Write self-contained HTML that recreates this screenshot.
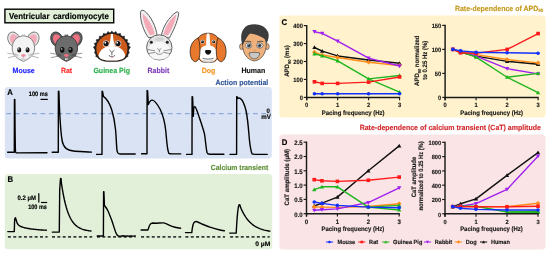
<!DOCTYPE html>
<html><head><meta charset="utf-8"><style>
html,body{margin:0;padding:0;background:#fff;width:550px;height:255px;overflow:hidden;}
svg{display:block;filter:blur(0.3px);}
text{font-family:"Liberation Sans",sans-serif;text-rendering:geometricPrecision;}
</style></head><body>
<svg width="550" height="255" viewBox="0 0 550 255">
<rect x="4.8" y="87" width="267.0" height="71.5" rx="3.5" fill="#dae3f3"/>
<rect x="4.8" y="174" width="267.4" height="75.2" rx="3.5" fill="#e2f0d9"/>
<rect x="279.4" y="15.4" width="266.2" height="102.0" rx="3.5" fill="#fff2cc"/>
<rect x="279.4" y="134.4" width="266.1" height="115.1" rx="3.5" fill="#fbe4e6"/>
<rect x="4.9" y="9.2" width="108.8" height="13.6" rx="0" fill="#e2f0d9" stroke="#000" stroke-width="1.4"/>
<text x="9.1" y="19.2" font-size="8.0" fill="#000" stroke="#000" stroke-width="0.14" font-weight="bold" text-anchor="start" textLength="40.4" lengthAdjust="spacingAndGlyphs" transform="translate(9.1 19.2) scale(1 1.07) translate(-9.1 -19.2)" >Ventricular</text>
<text x="52.9" y="19.2" font-size="8.0" fill="#000" stroke="#000" stroke-width="0.14" font-weight="bold" text-anchor="start" textLength="56.0" lengthAdjust="spacingAndGlyphs" transform="translate(52.9 19.2) scale(1 1.07) translate(-52.9 -19.2)" >cardiomyocyte</text>
<text x="23.65" y="72.6" font-size="7" fill="#1f1fff" stroke="#1f1fff" stroke-width="0.14" font-weight="bold" text-anchor="middle" transform="translate(23.65 72.6) scale(1 1.07) translate(-23.65 -72.6)" >Mouse</text>
<text x="66.55" y="72.6" font-size="7" fill="#ff2a2a" stroke="#ff2a2a" stroke-width="0.14" font-weight="bold" text-anchor="middle" transform="translate(66.55 72.6) scale(1 1.07) translate(-66.55 -72.6)" >Rat</text>
<text x="111.7" y="72.6" font-size="7" fill="#2fb04f" stroke="#2fb04f" stroke-width="0.14" font-weight="bold" text-anchor="middle" transform="translate(111.7 72.6) scale(1 1.07) translate(-111.7 -72.6)" >Guinea Pig</text>
<text x="158.35" y="72.6" font-size="7" fill="#7b3bb8" stroke="#7b3bb8" stroke-width="0.14" font-weight="bold" text-anchor="middle" transform="translate(158.35 72.6) scale(1 1.07) translate(-158.35 -72.6)" >Rabbit</text>
<text x="208.55" y="72.6" font-size="7" fill="#f7931e" stroke="#f7931e" stroke-width="0.14" font-weight="bold" text-anchor="middle" transform="translate(208.55 72.6) scale(1 1.07) translate(-208.55 -72.6)" >Dog</text>
<text x="253.35" y="72.6" font-size="7" fill="#111" stroke="#111" stroke-width="0.14" font-weight="bold" text-anchor="middle" transform="translate(253.35 72.6) scale(1 1.07) translate(-253.35 -72.6)" >Human</text>
<text x="268.3" y="84.9" font-size="7" fill="#2f5597" stroke="#2f5597" stroke-width="0.14" font-weight="bold" text-anchor="end" transform="translate(268.3 84.9) scale(1 1.07) translate(-268.3 -84.9)" >Action potential</text>
<text x="268.3" y="169.8" font-size="7" fill="#5b8e34" stroke="#5b8e34" stroke-width="0.14" font-weight="bold" text-anchor="end" textLength="57.5" lengthAdjust="spacingAndGlyphs" transform="translate(268.3 169.8) scale(1 1.07) translate(-268.3 -169.8)" >Calcium transient</text>
<text x="543.3" y="10.7" font-size="7" fill="#c49a1c" stroke="#c49a1c" stroke-width="0.14" font-weight="bold" text-anchor="end" transform="translate(543.3 10.7) scale(1 1.07) translate(-543.3 -10.7)" >Rate-dependence of APD<tspan font-size="4.5" dy="1.6">90</tspan></text>
<text x="540.9" y="129.7" font-size="7" fill="#d42a2e" stroke="#d42a2e" stroke-width="0.14" font-weight="bold" text-anchor="end" transform="translate(540.9 129.7) scale(1 1.07) translate(-540.9 -129.7)" >Rate-dependence of calcium transient (CaT) amplitude</text>
<text x="7.3" y="95.0" font-size="7.8" fill="#000" stroke="#000" stroke-width="0.14" font-weight="bold" text-anchor="start" transform="translate(7.3 95.0) scale(1 1.07) translate(-7.3 -95.0)" >A</text>
<text x="7.4" y="182.3" font-size="7.8" fill="#000" stroke="#000" stroke-width="0.14" font-weight="bold" text-anchor="start" transform="translate(7.4 182.3) scale(1 1.07) translate(-7.4 -182.3)" >B</text>
<text x="281.6" y="24.9" font-size="7.8" fill="#000" stroke="#000" stroke-width="0.14" font-weight="bold" text-anchor="start" transform="translate(281.6 24.9) scale(1 1.07) translate(-281.6 -24.9)" >C</text>
<text x="281.8" y="144.5" font-size="7.8" fill="#000" stroke="#000" stroke-width="0.14" font-weight="bold" text-anchor="start" transform="translate(281.8 144.5) scale(1 1.07) translate(-281.8 -144.5)" >D</text>
<line x1="6.4" y1="113.7" x2="271" y2="113.7" stroke="#8eaadb" stroke-width="1.25" stroke-dasharray="4.8 3.7"/>
<text x="28.8" y="95.7" font-size="5.9" fill="#000" stroke="#000" stroke-width="0.14" font-weight="bold" text-anchor="start" textLength="19" lengthAdjust="spacingAndGlyphs" transform="translate(28.8 95.7) scale(1 1.07) translate(-28.8 -95.7)" >100 ms</text>
<line x1="40.5" y1="99.4" x2="47.8" y2="99.4" stroke="#000" stroke-width="1.2" />
<text x="269.9" y="112.6" font-size="6.0" fill="#000" stroke="#000" stroke-width="0.14" font-weight="bold" text-anchor="end" transform="translate(269.9 112.6) scale(1 1.07) translate(-269.9 -112.6)" >0</text>
<text x="270.8" y="119.2" font-size="6.2" fill="#000" stroke="#000" stroke-width="0.14" font-weight="bold" text-anchor="end" textLength="9.6" lengthAdjust="spacingAndGlyphs" transform="translate(270.8 119.2) scale(1 1.07) translate(-270.8 -119.2)" >mV</text>
<path d="M7.6 152.3 L14.3 152.3 L14.45 99.4 L14.85 99.6 C15.0 125 15.2 145 15.45 151.3 C15.65 152.6 16 152.9 16.8 152.9 L47 152.8" stroke="#000" stroke-width="1.4" fill="none" stroke-linejoin="round" stroke-linecap="round" />
<path d="M52.2 152.2 L58.3 152.2 L58.4 91.3 L58.9 91.5 C59.6 115 60.5 130 62 140 C63.5 148 67 150.5 75 151.2 C82 151.7 87 152 91.5 152.1" stroke="#000" stroke-width="1.4" fill="none" stroke-linejoin="round" stroke-linecap="round" />
<path d="M96.6 154.4 L102 154.4 L102.1 91.3 L102.6 91.6 L103.4 96.4 C106.5 98.5 109.5 103 111.8 110 C113.5 115.5 114.8 122 115.6 130 C116.2 137 116.4 145 117 150.5 C117.4 153.3 118.2 154 120 154 L135.2 154" stroke="#000" stroke-width="1.4" fill="none" stroke-linejoin="round" stroke-linecap="round" />
<path d="M141.6 153.8 L147 153.8 L147.1 90.5 L147.6 90.8 L148.3 104.6 C149.5 101.5 150.8 100 152.3 100.1 C155 100.3 157.5 104.5 160 109 C163 115 164.8 122 165.8 131 C166.6 140 167.2 150 168.8 153.2 C169.5 153.9 171 153.9 172 153.9 L180.7 153.9" stroke="#000" stroke-width="1.4" fill="none" stroke-linejoin="round" stroke-linecap="round" />
<path d="M186.6 154.4 L192 154.4 L192.1 96.6 L192.6 96.8 L193.3 116.2 C193.6 110 194 106.5 194.6 106.5 C196 106.8 197.5 112 199.5 118 C201.5 124 203.3 129 204.5 134 C205.5 140 206 148 207 152.5 C207.5 154 208.5 154.2 210 154.2 L223.9 154.2" stroke="#000" stroke-width="1.4" fill="none" stroke-linejoin="round" stroke-linecap="round" />
<path d="M230 154.4 L236.6 154.4 L236.7 96.6 L237.2 96.9 L237.8 98.5 C238.5 97.8 239.5 97.8 240.5 98.6 C242.8 100.3 244.6 104.5 246.1 111 C247.3 117 248.2 125 248.9 134 C249.6 143 250.5 150 252 153.8 C252.6 154.4 253.6 154.4 255 154.4 L267.2 154.4" stroke="#000" stroke-width="1.4" fill="none" stroke-linejoin="round" stroke-linecap="round" />
<text x="17.5" y="199.6" font-size="5.9" fill="#000" stroke="#000" stroke-width="0.14" font-weight="bold" text-anchor="start" textLength="18.4" lengthAdjust="spacingAndGlyphs" transform="translate(17.5 199.6) scale(1 1.07) translate(-17.5 -199.6)" >0.2 µM</text>
<line x1="38.8" y1="193.3" x2="38.8" y2="202.6" stroke="#000" stroke-width="1.2" />
<line x1="41" y1="202.5" x2="47.2" y2="202.5" stroke="#000" stroke-width="1.2" />
<text x="28.2" y="208.9" font-size="5.9" fill="#000" stroke="#000" stroke-width="0.14" font-weight="bold" text-anchor="start" textLength="18.7" lengthAdjust="spacingAndGlyphs" transform="translate(28.2 208.9) scale(1 1.07) translate(-28.2 -208.9)" >100 ms</text>
<text x="270.3" y="246.0" font-size="5.9" fill="#000" stroke="#000" stroke-width="0.14" font-weight="bold" text-anchor="end" textLength="15.1" lengthAdjust="spacingAndGlyphs" transform="translate(270.3 246.0) scale(1 1.07) translate(-270.3 -246.0)" >0 µM</text>
<line x1="7.9" y1="236.9" x2="47.6" y2="236.9" stroke="#3a3a3a" stroke-width="1.6" stroke-dasharray="3.0 2.35"/>
<line x1="52.0" y1="236.9" x2="92.2" y2="236.9" stroke="#3a3a3a" stroke-width="1.6" stroke-dasharray="3.0 2.35"/>
<line x1="97.0" y1="236.9" x2="135.5" y2="236.9" stroke="#3a3a3a" stroke-width="1.6" stroke-dasharray="3.0 2.35"/>
<line x1="141.05" y1="236.9" x2="181.2" y2="236.9" stroke="#3a3a3a" stroke-width="1.6" stroke-dasharray="3.0 2.35"/>
<line x1="185.4" y1="236.9" x2="225.0" y2="236.9" stroke="#3a3a3a" stroke-width="1.6" stroke-dasharray="3.0 2.35"/>
<line x1="230.1" y1="236.9" x2="269.7" y2="236.9" stroke="#3a3a3a" stroke-width="1.6" stroke-dasharray="3.0 2.35"/>
<path d="M7.8 231.6 L14.3 231.6 L14.6 220.5 C14.8 218.6 15.1 217.8 15.5 217.8 L15.90 219.33 L17.17 223.20 L18.44 224.97 L19.71 225.92 L20.98 226.53 L22.25 227.00 L23.52 227.38 L24.80 227.72 L26.07 228.02 L27.34 228.29 L28.61 228.53 L29.88 228.75 L31.15 228.94 L32.42 229.12 L33.69 229.28 L34.96 229.42 L36.23 229.55 L37.50 229.67 L38.77 229.78 L40.05 229.87 L41.32 229.96 L42.59 230.04 L43.86 230.11 L45.13 230.17 L46.40 230.23" stroke="#000" stroke-width="1.4" fill="none" stroke-linejoin="round" stroke-linecap="round" />
<path d="M52.3 232.1 L59.3 232.1 L59.7 190 L60.5 178.6 C60.7 178.3 60.9 178.3 61.1 178.8 L61.30 182.28 L62.29 188.75 L63.28 194.37 L64.27 199.25 L65.26 203.50 L66.25 207.19 L67.24 210.40 L68.23 213.18 L69.22 215.61 L70.21 217.71 L71.20 219.54 L72.19 221.13 L73.18 222.52 L74.17 223.72 L75.16 224.76 L76.15 225.67 L77.14 226.46 L78.13 227.14 L79.12 227.74 L80.11 228.26 L81.10 228.71 L82.09 229.10 L83.08 229.44 L84.07 229.74 L85.06 229.99 L86.05 230.22 L87.04 230.41 L88.03 230.58 L89.02 230.73 L90.01 230.85 L91.00 230.96" stroke="#000" stroke-width="1.4" fill="none" stroke-linejoin="round" stroke-linecap="round" />
<path d="M97.2 236.0 L103.4 236.0 L103.6 191.7 L103.9 191.7 L104.4 205.1 C105.3 206.8 106.5 208 107.5 210 C109 213 110.5 217 112 221 C113.5 225.5 114.8 230 116 233 C116.8 235 117.5 235.8 118.5 236 L121 236.1 L123 235.8 L125 236.2 L127 235.9 L129 236.2 L131 235.9 L133 236.1 L135.3 236.0" stroke="#000" stroke-width="1.4" fill="none" stroke-linejoin="round" stroke-linecap="round" />
<path d="M141.1 230 L147.8 230 C148.5 229 149 226.5 149.5 225.5 C150.3 223.8 151 223 152.5 223 L156.8 223.2 C159 223.1 161.5 222.8 163.7 222.9 C165 223.1 166 223.6 167.5 224.3 C170 225.6 172.5 226.6 175 227.2 C177 227.7 179 228 180.6 228.2" stroke="#000" stroke-width="1.4" fill="none" stroke-linejoin="round" stroke-linecap="round" />
<path d="M185.5 232.6 L191.8 232.6 L192.2 229 C192.5 226.5 193 224 193.8 222.8 C194.5 221.7 195.4 221.4 196.2 221.5 C198.5 222 200 223 202 224 C205 225.4 207.5 226.2 210 227.2 C213.5 228.5 217 229.4 220 230 C222 230.4 223.5 230.6 224.4 230.7" stroke="#000" stroke-width="1.4" fill="none" stroke-linejoin="round" stroke-linecap="round" />
<path d="M229.7 233.1 L236.2 233.1 L236.6 226 C237.2 216 238 207.5 238.9 205.1 C239.2 204.5 239.6 204.5 240 205.2 L240.30 206.63 L241.35 209.11 L242.41 211.35 L243.46 213.38 L244.51 215.21 L245.57 216.88 L246.62 218.38 L247.68 219.75 L248.73 220.98 L249.78 222.10 L250.84 223.11 L251.89 224.03 L252.94 224.86 L254.00 225.61 L255.05 226.28 L256.10 226.90 L257.16 227.46 L258.21 227.96 L259.26 228.42 L260.32 228.83 L261.37 229.20 L262.43 229.54 L263.48 229.85 L264.53 230.13 L265.59 230.38 L266.64 230.61 L267.69 230.81 L268.75 231.00 L269.80 231.17" stroke="#000" stroke-width="1.4" fill="none" stroke-linejoin="round" stroke-linecap="round" />
<polyline points="314.44,47.50 322.18,51.09 337.65,55.94 368.60,60.06 399.55,63.30" fill="none" stroke="#111111" stroke-width="1.4" stroke-linejoin="round"/>
<path d="M314.44 45.34 L316.60 49.12 L312.28 49.12 Z" fill="#111111"/>
<path d="M322.18 48.93 L324.34 52.71 L320.01 52.71 Z" fill="#111111"/>
<path d="M337.65 53.78 L339.81 57.56 L335.49 57.56 Z" fill="#111111"/>
<path d="M368.60 57.90 L370.76 61.68 L366.44 61.68 Z" fill="#111111"/>
<path d="M399.55 61.14 L401.71 64.92 L397.39 64.92 Z" fill="#111111"/>
<polyline points="314.44,52.17 322.18,55.04 337.65,57.55 368.60,62.22 399.55,65.45" fill="none" stroke="#ff8c1a" stroke-width="1.4" stroke-linejoin="round"/>
<path d="M314.44 49.83 L316.78 52.17 L314.44 54.51 L312.10 52.17 Z" fill="#ff8c1a"/>
<path d="M322.18 52.70 L324.51 55.04 L322.18 57.38 L319.84 55.04 Z" fill="#ff8c1a"/>
<path d="M337.65 55.21 L339.99 57.55 L337.65 59.89 L335.31 57.55 Z" fill="#ff8c1a"/>
<path d="M368.60 59.88 L370.94 62.22 L368.60 64.56 L366.26 62.22 Z" fill="#ff8c1a"/>
<path d="M399.55 63.11 L401.89 65.45 L399.55 67.79 L397.21 65.45 Z" fill="#ff8c1a"/>
<polyline points="314.44,31.70 322.18,33.32 337.65,41.04 368.60,58.09 399.55,65.99" fill="none" stroke="#a020f0" stroke-width="1.4" stroke-linejoin="round"/>
<path d="M314.44 33.86 L316.60 30.08 L312.28 30.08 Z" fill="#a020f0"/>
<path d="M322.18 35.48 L324.34 31.70 L320.01 31.70 Z" fill="#a020f0"/>
<path d="M337.65 43.20 L339.81 39.42 L335.49 39.42 Z" fill="#a020f0"/>
<path d="M368.60 60.25 L370.76 56.47 L366.44 56.47 Z" fill="#a020f0"/>
<path d="M399.55 68.15 L401.71 64.37 L397.39 64.37 Z" fill="#a020f0"/>
<polyline points="314.44,53.78 322.18,55.94 337.65,60.78 368.60,78.91 399.55,92.19" fill="none" stroke="#1fb51f" stroke-width="1.4" stroke-linejoin="round"/>
<line x1="368.60" y1="78.91" x2="399.55" y2="75.50" stroke="#1fb51f" stroke-width="1.4" />
<path d="M314.44 51.62 L316.60 55.40 L312.28 55.40 Z" fill="#1fb51f"/>
<path d="M322.18 53.78 L324.34 57.56 L320.01 57.56 Z" fill="#1fb51f"/>
<path d="M337.65 58.62 L339.81 62.40 L335.49 62.40 Z" fill="#1fb51f"/>
<path d="M368.60 76.75 L370.76 80.53 L366.44 80.53 Z" fill="#1fb51f"/>
<path d="M399.55 90.03 L401.71 93.81 L397.39 93.81 Z" fill="#1fb51f"/>
<path d="M399.55 73.34 L401.71 77.12 L397.39 77.12 Z" fill="#1fb51f"/>
<polyline points="314.44,81.78 322.18,83.40 337.65,83.40 368.60,82.14 399.55,76.94" fill="none" stroke="#ff1a1a" stroke-width="1.4" stroke-linejoin="round"/>
<rect x="312.64" y="79.98" width="3.60" height="3.60" fill="#ff1a1a"/>
<rect x="320.38" y="81.60" width="3.60" height="3.60" fill="#ff1a1a"/>
<rect x="335.85" y="81.60" width="3.60" height="3.60" fill="#ff1a1a"/>
<rect x="366.80" y="80.34" width="3.60" height="3.60" fill="#ff1a1a"/>
<rect x="397.75" y="75.14" width="3.60" height="3.60" fill="#ff1a1a"/>
<polyline points="314.44,93.81 322.18,93.81 337.65,93.81 368.60,93.81 399.55,93.81" fill="none" stroke="#1030ff" stroke-width="1.4" stroke-linejoin="round"/>
<circle cx="314.44" cy="93.81" r="1.8" fill="#1030ff"/>
<circle cx="322.18" cy="93.81" r="1.8" fill="#1030ff"/>
<circle cx="337.65" cy="93.81" r="1.8" fill="#1030ff"/>
<circle cx="368.60" cy="93.81" r="1.8" fill="#1030ff"/>
<circle cx="399.55" cy="93.81" r="1.8" fill="#1030ff"/>
<line x1="306.70" y1="25.00" x2="306.70" y2="100.30" stroke="#1a1a1a" stroke-width="1.45" />
<line x1="306.10" y1="97.40" x2="400.15" y2="97.40" stroke="#1a1a1a" stroke-width="1.45" />
<line x1="303.80" y1="97.40" x2="306.70" y2="97.40" stroke="#1a1a1a" stroke-width="1.15" />
<text x="302.90" y="99.65" font-size="5.8" fill="#1a1a1a" stroke="#1a1a1a" stroke-width="0.14" font-weight="bold" text-anchor="end" transform="translate(302.90 99.65) scale(1 1.07) translate(-302.9 -99.65)" >0</text>
<line x1="303.80" y1="79.45" x2="306.70" y2="79.45" stroke="#1a1a1a" stroke-width="1.15" />
<text x="302.90" y="81.70" font-size="5.8" fill="#1a1a1a" stroke="#1a1a1a" stroke-width="0.14" font-weight="bold" text-anchor="end" transform="translate(302.90 81.70) scale(1 1.07) translate(-302.9 -81.7)" >100</text>
<line x1="303.80" y1="61.50" x2="306.70" y2="61.50" stroke="#1a1a1a" stroke-width="1.15" />
<text x="302.90" y="63.75" font-size="5.8" fill="#1a1a1a" stroke="#1a1a1a" stroke-width="0.14" font-weight="bold" text-anchor="end" transform="translate(302.90 63.75) scale(1 1.07) translate(-302.9 -63.75)" >200</text>
<line x1="303.80" y1="43.55" x2="306.70" y2="43.55" stroke="#1a1a1a" stroke-width="1.15" />
<text x="302.90" y="45.80" font-size="5.8" fill="#1a1a1a" stroke="#1a1a1a" stroke-width="0.14" font-weight="bold" text-anchor="end" transform="translate(302.90 45.80) scale(1 1.07) translate(-302.9 -45.8)" >300</text>
<line x1="303.80" y1="25.60" x2="306.70" y2="25.60" stroke="#1a1a1a" stroke-width="1.15" />
<text x="302.90" y="27.85" font-size="5.8" fill="#1a1a1a" stroke="#1a1a1a" stroke-width="0.14" font-weight="bold" text-anchor="end" transform="translate(302.90 27.85) scale(1 1.07) translate(-302.9 -27.85)" >400</text>
<line x1="306.70" y1="97.40" x2="306.70" y2="100.30" stroke="#1a1a1a" stroke-width="1.15" />
<text x="306.70" y="106.60" font-size="5.8" fill="#1a1a1a" stroke="#1a1a1a" stroke-width="0.14" font-weight="bold" text-anchor="middle" transform="translate(306.70 106.60) scale(1 1.07) translate(-306.7 -106.6)" >0</text>
<line x1="337.65" y1="97.40" x2="337.65" y2="100.30" stroke="#1a1a1a" stroke-width="1.15" />
<text x="337.65" y="106.60" font-size="5.8" fill="#1a1a1a" stroke="#1a1a1a" stroke-width="0.14" font-weight="bold" text-anchor="middle" transform="translate(337.65 106.60) scale(1 1.07) translate(-337.65 -106.6)" >1</text>
<line x1="368.60" y1="97.40" x2="368.60" y2="100.30" stroke="#1a1a1a" stroke-width="1.15" />
<text x="368.60" y="106.60" font-size="5.8" fill="#1a1a1a" stroke="#1a1a1a" stroke-width="0.14" font-weight="bold" text-anchor="middle" transform="translate(368.60 106.60) scale(1 1.07) translate(-368.6 -106.6)" >2</text>
<line x1="399.55" y1="97.40" x2="399.55" y2="100.30" stroke="#1a1a1a" stroke-width="1.15" />
<text x="399.55" y="106.60" font-size="5.8" fill="#1a1a1a" stroke="#1a1a1a" stroke-width="0.14" font-weight="bold" text-anchor="middle" transform="translate(399.55 106.60) scale(1 1.07) translate(-399.55 -106.6)" >3</text>
<text x="353.12" y="114.60" font-size="6" fill="#1a1a1a" stroke="#1a1a1a" stroke-width="0.14" font-weight="bold" text-anchor="middle" textLength="62.7" lengthAdjust="spacingAndGlyphs" transform="translate(353.12 114.60) scale(1 1.07) translate(-353.12 -114.6)" >Pacing frequency (Hz)</text>
<polyline points="452.85,49.40 460.60,52.28 476.10,56.12 507.10,61.40 538.10,64.28" fill="none" stroke="#111111" stroke-width="1.4" stroke-linejoin="round"/>
<path d="M452.85 47.24 L455.01 51.02 L450.69 51.02 Z" fill="#111111"/>
<path d="M460.60 50.12 L462.76 53.90 L458.44 53.90 Z" fill="#111111"/>
<path d="M476.10 53.96 L478.26 57.74 L473.94 57.74 Z" fill="#111111"/>
<path d="M507.10 59.24 L509.26 63.02 L504.94 63.02 Z" fill="#111111"/>
<path d="M538.10 62.12 L540.26 65.90 L535.94 65.90 Z" fill="#111111"/>
<polyline points="452.85,49.40 460.60,51.80 476.10,54.68 507.10,59.48 538.10,62.84" fill="none" stroke="#ff8c1a" stroke-width="1.4" stroke-linejoin="round"/>
<path d="M452.85 47.06 L455.19 49.40 L452.85 51.74 L450.51 49.40 Z" fill="#ff8c1a"/>
<path d="M460.60 49.46 L462.94 51.80 L460.60 54.14 L458.26 51.80 Z" fill="#ff8c1a"/>
<path d="M476.10 52.34 L478.44 54.68 L476.10 57.02 L473.76 54.68 Z" fill="#ff8c1a"/>
<path d="M507.10 57.14 L509.44 59.48 L507.10 61.82 L504.76 59.48 Z" fill="#ff8c1a"/>
<path d="M538.10 60.50 L540.44 62.84 L538.10 65.18 L535.76 62.84 Z" fill="#ff8c1a"/>
<polyline points="452.85,49.40 460.60,51.32 476.10,56.12 507.10,68.60 538.10,73.88" fill="none" stroke="#a020f0" stroke-width="1.4" stroke-linejoin="round"/>
<path d="M452.85 51.56 L455.01 47.78 L450.69 47.78 Z" fill="#a020f0"/>
<path d="M460.60 53.48 L462.76 49.70 L458.44 49.70 Z" fill="#a020f0"/>
<path d="M476.10 58.28 L478.26 54.50 L473.94 54.50 Z" fill="#a020f0"/>
<path d="M507.10 70.76 L509.26 66.98 L504.94 66.98 Z" fill="#a020f0"/>
<path d="M538.10 76.04 L540.26 72.26 L535.94 72.26 Z" fill="#a020f0"/>
<polyline points="452.85,49.40 460.60,51.80 476.10,57.08 507.10,77.24 538.10,92.60" fill="none" stroke="#1fb51f" stroke-width="1.4" stroke-linejoin="round"/>
<line x1="507.10" y1="77.24" x2="538.10" y2="73.40" stroke="#1fb51f" stroke-width="1.4" />
<path d="M452.85 47.24 L455.01 51.02 L450.69 51.02 Z" fill="#1fb51f"/>
<path d="M460.60 49.64 L462.76 53.42 L458.44 53.42 Z" fill="#1fb51f"/>
<path d="M476.10 54.92 L478.26 58.70 L473.94 58.70 Z" fill="#1fb51f"/>
<path d="M507.10 75.08 L509.26 78.86 L504.94 78.86 Z" fill="#1fb51f"/>
<path d="M538.10 90.44 L540.26 94.22 L535.94 94.22 Z" fill="#1fb51f"/>
<path d="M538.10 71.24 L540.26 75.02 L535.94 75.02 Z" fill="#1fb51f"/>
<polyline points="452.85,49.40 460.60,52.76 476.10,53.24 507.10,49.40 538.10,33.56" fill="none" stroke="#ff1a1a" stroke-width="1.4" stroke-linejoin="round"/>
<rect x="451.05" y="47.60" width="3.60" height="3.60" fill="#ff1a1a"/>
<rect x="458.80" y="50.96" width="3.60" height="3.60" fill="#ff1a1a"/>
<rect x="474.30" y="51.44" width="3.60" height="3.60" fill="#ff1a1a"/>
<rect x="505.30" y="47.60" width="3.60" height="3.60" fill="#ff1a1a"/>
<rect x="536.30" y="31.76" width="3.60" height="3.60" fill="#ff1a1a"/>
<polyline points="452.85,49.40 460.60,50.84 476.10,52.28 507.10,52.76 538.10,53.24" fill="none" stroke="#1030ff" stroke-width="1.4" stroke-linejoin="round"/>
<circle cx="452.85" cy="49.40" r="1.8" fill="#1030ff"/>
<circle cx="460.60" cy="50.84" r="1.8" fill="#1030ff"/>
<circle cx="476.10" cy="52.28" r="1.8" fill="#1030ff"/>
<circle cx="507.10" cy="52.76" r="1.8" fill="#1030ff"/>
<circle cx="538.10" cy="53.24" r="1.8" fill="#1030ff"/>
<line x1="445.10" y1="24.80" x2="445.10" y2="100.30" stroke="#1a1a1a" stroke-width="1.45" />
<line x1="444.50" y1="97.40" x2="538.70" y2="97.40" stroke="#1a1a1a" stroke-width="1.45" />
<line x1="442.20" y1="97.40" x2="445.10" y2="97.40" stroke="#1a1a1a" stroke-width="1.15" />
<text x="441.30" y="99.65" font-size="5.8" fill="#1a1a1a" stroke="#1a1a1a" stroke-width="0.14" font-weight="bold" text-anchor="end" transform="translate(441.30 99.65) scale(1 1.07) translate(-441.3 -99.65)" >0</text>
<line x1="442.20" y1="73.40" x2="445.10" y2="73.40" stroke="#1a1a1a" stroke-width="1.15" />
<text x="441.30" y="75.65" font-size="5.8" fill="#1a1a1a" stroke="#1a1a1a" stroke-width="0.14" font-weight="bold" text-anchor="end" transform="translate(441.30 75.65) scale(1 1.07) translate(-441.3 -75.65)" >50</text>
<line x1="442.20" y1="49.40" x2="445.10" y2="49.40" stroke="#1a1a1a" stroke-width="1.15" />
<text x="441.30" y="51.65" font-size="5.8" fill="#1a1a1a" stroke="#1a1a1a" stroke-width="0.14" font-weight="bold" text-anchor="end" transform="translate(441.30 51.65) scale(1 1.07) translate(-441.3 -51.65)" >100</text>
<line x1="442.20" y1="25.40" x2="445.10" y2="25.40" stroke="#1a1a1a" stroke-width="1.15" />
<text x="441.30" y="27.65" font-size="5.8" fill="#1a1a1a" stroke="#1a1a1a" stroke-width="0.14" font-weight="bold" text-anchor="end" transform="translate(441.30 27.65) scale(1 1.07) translate(-441.3 -27.65)" >150</text>
<line x1="445.10" y1="97.40" x2="445.10" y2="100.30" stroke="#1a1a1a" stroke-width="1.15" />
<text x="445.10" y="106.60" font-size="5.8" fill="#1a1a1a" stroke="#1a1a1a" stroke-width="0.14" font-weight="bold" text-anchor="middle" transform="translate(445.10 106.60) scale(1 1.07) translate(-445.1 -106.6)" >0</text>
<line x1="476.10" y1="97.40" x2="476.10" y2="100.30" stroke="#1a1a1a" stroke-width="1.15" />
<text x="476.10" y="106.60" font-size="5.8" fill="#1a1a1a" stroke="#1a1a1a" stroke-width="0.14" font-weight="bold" text-anchor="middle" transform="translate(476.10 106.60) scale(1 1.07) translate(-476.1 -106.6)" >1</text>
<line x1="507.10" y1="97.40" x2="507.10" y2="100.30" stroke="#1a1a1a" stroke-width="1.15" />
<text x="507.10" y="106.60" font-size="5.8" fill="#1a1a1a" stroke="#1a1a1a" stroke-width="0.14" font-weight="bold" text-anchor="middle" transform="translate(507.10 106.60) scale(1 1.07) translate(-507.1 -106.6)" >2</text>
<line x1="538.10" y1="97.40" x2="538.10" y2="100.30" stroke="#1a1a1a" stroke-width="1.15" />
<text x="538.10" y="106.60" font-size="5.8" fill="#1a1a1a" stroke="#1a1a1a" stroke-width="0.14" font-weight="bold" text-anchor="middle" transform="translate(538.10 106.60) scale(1 1.07) translate(-538.1 -106.6)" >3</text>
<text x="491.60" y="114.60" font-size="6" fill="#1a1a1a" stroke="#1a1a1a" stroke-width="0.14" font-weight="bold" text-anchor="middle" textLength="62.7" lengthAdjust="spacingAndGlyphs" transform="translate(491.60 114.60) scale(1 1.07) translate(-491.6 -114.6)" >Pacing frequency (Hz)</text>
<polyline points="314.23,205.98 321.95,203.12 337.40,197.11 368.30,170.80 399.20,145.92" fill="none" stroke="#111111" stroke-width="1.4" stroke-linejoin="round"/>
<path d="M314.23 203.82 L316.39 207.60 L312.06 207.60 Z" fill="#111111"/>
<path d="M321.95 200.96 L324.11 204.74 L319.79 204.74 Z" fill="#111111"/>
<path d="M337.40 194.95 L339.56 198.73 L335.24 198.73 Z" fill="#111111"/>
<path d="M368.30 168.64 L370.46 172.42 L366.14 172.42 Z" fill="#111111"/>
<path d="M399.20 143.76 L401.36 147.54 L397.04 147.54 Z" fill="#111111"/>
<polyline points="314.23,206.84 321.95,207.12 337.40,207.41 368.30,206.55 399.20,203.69" fill="none" stroke="#ff8c1a" stroke-width="1.4" stroke-linejoin="round"/>
<path d="M314.23 204.50 L316.56 206.84 L314.23 209.18 L311.89 206.84 Z" fill="#ff8c1a"/>
<path d="M321.95 204.78 L324.29 207.12 L321.95 209.46 L319.61 207.12 Z" fill="#ff8c1a"/>
<path d="M337.40 205.07 L339.74 207.41 L337.40 209.75 L335.06 207.41 Z" fill="#ff8c1a"/>
<path d="M368.30 204.21 L370.64 206.55 L368.30 208.89 L365.96 206.55 Z" fill="#ff8c1a"/>
<path d="M399.20 201.35 L401.54 203.69 L399.20 206.03 L396.86 203.69 Z" fill="#ff8c1a"/>
<polyline points="314.23,210.27 321.95,209.70 337.40,208.84 368.30,202.55 399.20,187.96" fill="none" stroke="#a020f0" stroke-width="1.4" stroke-linejoin="round"/>
<path d="M314.23 212.43 L316.39 208.65 L312.06 208.65 Z" fill="#a020f0"/>
<path d="M321.95 211.86 L324.11 208.08 L319.79 208.08 Z" fill="#a020f0"/>
<path d="M337.40 211.00 L339.56 207.22 L335.24 207.22 Z" fill="#a020f0"/>
<path d="M368.30 204.71 L370.46 200.93 L366.14 200.93 Z" fill="#a020f0"/>
<path d="M399.20 190.12 L401.36 186.34 L397.04 186.34 Z" fill="#a020f0"/>
<polyline points="314.23,189.68 321.95,186.82 337.40,186.82 368.30,207.12 399.20,209.98" fill="none" stroke="#1fb51f" stroke-width="1.4" stroke-linejoin="round"/>
<line x1="368.30" y1="207.12" x2="399.20" y2="205.41" stroke="#1fb51f" stroke-width="1.4" />
<path d="M314.23 187.52 L316.39 191.30 L312.06 191.30 Z" fill="#1fb51f"/>
<path d="M321.95 184.66 L324.11 188.44 L319.79 188.44 Z" fill="#1fb51f"/>
<path d="M337.40 184.66 L339.56 188.44 L335.24 188.44 Z" fill="#1fb51f"/>
<path d="M368.30 204.96 L370.46 208.74 L366.14 208.74 Z" fill="#1fb51f"/>
<path d="M399.20 207.82 L401.36 211.60 L397.04 211.60 Z" fill="#1fb51f"/>
<path d="M399.20 203.25 L401.36 207.03 L397.04 207.03 Z" fill="#1fb51f"/>
<polyline points="314.23,179.67 321.95,180.81 337.40,181.38 368.30,180.24 399.20,177.09" fill="none" stroke="#ff1a1a" stroke-width="1.4" stroke-linejoin="round"/>
<rect x="312.43" y="177.87" width="3.60" height="3.60" fill="#ff1a1a"/>
<rect x="320.15" y="179.01" width="3.60" height="3.60" fill="#ff1a1a"/>
<rect x="335.60" y="179.58" width="3.60" height="3.60" fill="#ff1a1a"/>
<rect x="366.50" y="178.44" width="3.60" height="3.60" fill="#ff1a1a"/>
<rect x="397.40" y="175.29" width="3.60" height="3.60" fill="#ff1a1a"/>
<polyline points="314.23,201.97 321.95,203.40 337.40,205.41 368.30,207.12 399.20,207.69" fill="none" stroke="#1030ff" stroke-width="1.4" stroke-linejoin="round"/>
<circle cx="314.23" cy="201.97" r="1.8" fill="#1030ff"/>
<circle cx="321.95" cy="203.40" r="1.8" fill="#1030ff"/>
<circle cx="337.40" cy="205.41" r="1.8" fill="#1030ff"/>
<circle cx="368.30" cy="207.12" r="1.8" fill="#1030ff"/>
<circle cx="399.20" cy="207.69" r="1.8" fill="#1030ff"/>
<line x1="306.50" y1="141.60" x2="306.50" y2="216.60" stroke="#1a1a1a" stroke-width="1.45" />
<line x1="305.90" y1="213.70" x2="399.80" y2="213.70" stroke="#1a1a1a" stroke-width="1.45" />
<line x1="303.60" y1="213.70" x2="306.50" y2="213.70" stroke="#1a1a1a" stroke-width="1.15" />
<text x="302.70" y="216.65" font-size="6" fill="#1a1a1a" stroke="#1a1a1a" stroke-width="0.14" font-weight="bold" text-anchor="end" transform="translate(302.70 216.65) scale(1 1.07) translate(-302.7 -216.65)" >0.0</text>
<line x1="303.60" y1="199.40" x2="306.50" y2="199.40" stroke="#1a1a1a" stroke-width="1.15" />
<text x="302.70" y="202.35" font-size="6" fill="#1a1a1a" stroke="#1a1a1a" stroke-width="0.14" font-weight="bold" text-anchor="end" transform="translate(302.70 202.35) scale(1 1.07) translate(-302.7 -202.35)" >0.5</text>
<line x1="303.60" y1="185.10" x2="306.50" y2="185.10" stroke="#1a1a1a" stroke-width="1.15" />
<text x="302.70" y="188.05" font-size="6" fill="#1a1a1a" stroke="#1a1a1a" stroke-width="0.14" font-weight="bold" text-anchor="end" transform="translate(302.70 188.05) scale(1 1.07) translate(-302.7 -188.05)" >1.0</text>
<line x1="303.60" y1="170.80" x2="306.50" y2="170.80" stroke="#1a1a1a" stroke-width="1.15" />
<text x="302.70" y="173.75" font-size="6" fill="#1a1a1a" stroke="#1a1a1a" stroke-width="0.14" font-weight="bold" text-anchor="end" transform="translate(302.70 173.75) scale(1 1.07) translate(-302.7 -173.75)" >1.5</text>
<line x1="303.60" y1="156.50" x2="306.50" y2="156.50" stroke="#1a1a1a" stroke-width="1.15" />
<text x="302.70" y="159.45" font-size="6" fill="#1a1a1a" stroke="#1a1a1a" stroke-width="0.14" font-weight="bold" text-anchor="end" transform="translate(302.70 159.45) scale(1 1.07) translate(-302.7 -159.45)" >2.0</text>
<line x1="303.60" y1="142.20" x2="306.50" y2="142.20" stroke="#1a1a1a" stroke-width="1.15" />
<text x="302.70" y="145.15" font-size="6" fill="#1a1a1a" stroke="#1a1a1a" stroke-width="0.14" font-weight="bold" text-anchor="end" transform="translate(302.70 145.15) scale(1 1.07) translate(-302.7 -145.15)" >2.5</text>
<line x1="306.50" y1="213.70" x2="306.50" y2="216.60" stroke="#1a1a1a" stroke-width="1.15" />
<text x="306.50" y="223.80" font-size="6" fill="#1a1a1a" stroke="#1a1a1a" stroke-width="0.14" font-weight="bold" text-anchor="middle" transform="translate(306.50 223.80) scale(1 1.07) translate(-306.5 -223.8)" >0</text>
<line x1="337.40" y1="213.70" x2="337.40" y2="216.60" stroke="#1a1a1a" stroke-width="1.15" />
<text x="337.40" y="223.80" font-size="6" fill="#1a1a1a" stroke="#1a1a1a" stroke-width="0.14" font-weight="bold" text-anchor="middle" transform="translate(337.40 223.80) scale(1 1.07) translate(-337.4 -223.8)" >1</text>
<line x1="368.30" y1="213.70" x2="368.30" y2="216.60" stroke="#1a1a1a" stroke-width="1.15" />
<text x="368.30" y="223.80" font-size="6" fill="#1a1a1a" stroke="#1a1a1a" stroke-width="0.14" font-weight="bold" text-anchor="middle" transform="translate(368.30 223.80) scale(1 1.07) translate(-368.3 -223.8)" >2</text>
<line x1="399.20" y1="213.70" x2="399.20" y2="216.60" stroke="#1a1a1a" stroke-width="1.15" />
<text x="399.20" y="223.80" font-size="6" fill="#1a1a1a" stroke="#1a1a1a" stroke-width="0.14" font-weight="bold" text-anchor="middle" transform="translate(399.20 223.80) scale(1 1.07) translate(-399.2 -223.8)" >3</text>
<text x="352.85" y="231.00" font-size="6" fill="#1a1a1a" stroke="#1a1a1a" stroke-width="0.14" font-weight="bold" text-anchor="middle" textLength="62.7" lengthAdjust="spacingAndGlyphs" transform="translate(352.85 231.00) scale(1 1.07) translate(-352.85 -231.0)" >Pacing frequency (Hz)</text>
<polyline points="452.75,206.65 460.50,203.79 476.00,198.93 507.00,175.33 538.00,152.60" fill="none" stroke="#111111" stroke-width="1.4" stroke-linejoin="round"/>
<path d="M452.75 204.49 L454.91 208.27 L450.59 208.27 Z" fill="#111111"/>
<path d="M460.50 201.63 L462.66 205.41 L458.34 205.41 Z" fill="#111111"/>
<path d="M476.00 196.77 L478.16 200.55 L473.84 200.55 Z" fill="#111111"/>
<path d="M507.00 173.17 L509.16 176.95 L504.84 176.95 Z" fill="#111111"/>
<path d="M538.00 150.44 L540.16 154.22 L535.84 154.22 Z" fill="#111111"/>
<polyline points="452.75,206.65 460.50,206.65 476.00,206.65 507.00,206.65 538.00,203.22" fill="none" stroke="#ff8c1a" stroke-width="1.4" stroke-linejoin="round"/>
<path d="M452.75 204.31 L455.09 206.65 L452.75 208.99 L450.41 206.65 Z" fill="#ff8c1a"/>
<path d="M460.50 204.31 L462.84 206.65 L460.50 208.99 L458.16 206.65 Z" fill="#ff8c1a"/>
<path d="M476.00 204.31 L478.34 206.65 L476.00 208.99 L473.66 206.65 Z" fill="#ff8c1a"/>
<path d="M507.00 204.31 L509.34 206.65 L507.00 208.99 L504.66 206.65 Z" fill="#ff8c1a"/>
<path d="M538.00 200.88 L540.34 203.22 L538.00 205.56 L535.66 203.22 Z" fill="#ff8c1a"/>
<polyline points="452.75,206.65 460.50,206.22 476.00,203.58 507.00,189.42 538.00,156.17" fill="none" stroke="#a020f0" stroke-width="1.4" stroke-linejoin="round"/>
<path d="M452.75 208.81 L454.91 205.03 L450.59 205.03 Z" fill="#a020f0"/>
<path d="M460.50 208.38 L462.66 204.60 L458.34 204.60 Z" fill="#a020f0"/>
<path d="M476.00 205.74 L478.16 201.96 L473.84 201.96 Z" fill="#a020f0"/>
<path d="M507.00 191.58 L509.16 187.80 L504.84 187.80 Z" fill="#a020f0"/>
<path d="M538.00 158.33 L540.16 154.55 L535.84 154.55 Z" fill="#a020f0"/>
<polyline points="452.75,206.65 460.50,206.22 476.00,206.22 507.00,212.01 538.00,212.37" fill="none" stroke="#1fb51f" stroke-width="1.4" stroke-linejoin="round"/>
<line x1="507.00" y1="212.01" x2="538.00" y2="211.30" stroke="#1fb51f" stroke-width="1.4" />
<path d="M452.75 204.49 L454.91 208.27 L450.59 208.27 Z" fill="#1fb51f"/>
<path d="M460.50 204.06 L462.66 207.84 L458.34 207.84 Z" fill="#1fb51f"/>
<path d="M476.00 204.06 L478.16 207.84 L473.84 207.84 Z" fill="#1fb51f"/>
<path d="M507.00 209.85 L509.16 213.63 L504.84 213.63 Z" fill="#1fb51f"/>
<path d="M538.00 210.21 L540.16 213.99 L535.84 213.99 Z" fill="#1fb51f"/>
<path d="M538.00 209.14 L540.16 212.92 L535.84 212.92 Z" fill="#1fb51f"/>
<polyline points="452.75,206.65 460.50,206.65 476.00,206.79 507.00,206.86 538.00,206.22" fill="none" stroke="#ff1a1a" stroke-width="1.4" stroke-linejoin="round"/>
<rect x="450.95" y="204.85" width="3.60" height="3.60" fill="#ff1a1a"/>
<rect x="458.70" y="204.85" width="3.60" height="3.60" fill="#ff1a1a"/>
<rect x="474.20" y="204.99" width="3.60" height="3.60" fill="#ff1a1a"/>
<rect x="505.20" y="205.06" width="3.60" height="3.60" fill="#ff1a1a"/>
<rect x="536.20" y="204.42" width="3.60" height="3.60" fill="#ff1a1a"/>
<polyline points="452.75,206.65 460.50,208.29 476.00,209.37 507.00,210.01 538.00,210.01" fill="none" stroke="#1030ff" stroke-width="1.4" stroke-linejoin="round"/>
<circle cx="452.75" cy="206.65" r="1.8" fill="#1030ff"/>
<circle cx="460.50" cy="208.29" r="1.8" fill="#1030ff"/>
<circle cx="476.00" cy="209.37" r="1.8" fill="#1030ff"/>
<circle cx="507.00" cy="210.01" r="1.8" fill="#1030ff"/>
<circle cx="538.00" cy="210.01" r="1.8" fill="#1030ff"/>
<line x1="445.00" y1="141.70" x2="445.00" y2="216.70" stroke="#1a1a1a" stroke-width="1.45" />
<line x1="444.40" y1="213.80" x2="538.60" y2="213.80" stroke="#1a1a1a" stroke-width="1.45" />
<line x1="442.10" y1="213.80" x2="445.00" y2="213.80" stroke="#1a1a1a" stroke-width="1.15" />
<text x="441.20" y="216.55" font-size="5.7" fill="#1a1a1a" stroke="#1a1a1a" stroke-width="0.14" font-weight="bold" text-anchor="end" transform="translate(441.20 216.55) scale(1 1.07) translate(-441.2 -216.55)" >0</text>
<line x1="442.10" y1="199.50" x2="445.00" y2="199.50" stroke="#1a1a1a" stroke-width="1.15" />
<text x="441.20" y="202.25" font-size="5.7" fill="#1a1a1a" stroke="#1a1a1a" stroke-width="0.14" font-weight="bold" text-anchor="end" transform="translate(441.20 202.25) scale(1 1.07) translate(-441.2 -202.25)" >200</text>
<line x1="442.10" y1="185.20" x2="445.00" y2="185.20" stroke="#1a1a1a" stroke-width="1.15" />
<text x="441.20" y="187.95" font-size="5.7" fill="#1a1a1a" stroke="#1a1a1a" stroke-width="0.14" font-weight="bold" text-anchor="end" transform="translate(441.20 187.95) scale(1 1.07) translate(-441.2 -187.95)" >400</text>
<line x1="442.10" y1="170.90" x2="445.00" y2="170.90" stroke="#1a1a1a" stroke-width="1.15" />
<text x="441.20" y="173.65" font-size="5.7" fill="#1a1a1a" stroke="#1a1a1a" stroke-width="0.14" font-weight="bold" text-anchor="end" transform="translate(441.20 173.65) scale(1 1.07) translate(-441.2 -173.65)" >600</text>
<line x1="442.10" y1="156.60" x2="445.00" y2="156.60" stroke="#1a1a1a" stroke-width="1.15" />
<text x="441.20" y="159.35" font-size="5.7" fill="#1a1a1a" stroke="#1a1a1a" stroke-width="0.14" font-weight="bold" text-anchor="end" transform="translate(441.20 159.35) scale(1 1.07) translate(-441.2 -159.35)" >800</text>
<line x1="442.10" y1="142.30" x2="445.00" y2="142.30" stroke="#1a1a1a" stroke-width="1.15" />
<text x="441.20" y="145.05" font-size="5.7" fill="#1a1a1a" stroke="#1a1a1a" stroke-width="0.14" font-weight="bold" text-anchor="end" transform="translate(441.20 145.05) scale(1 1.07) translate(-441.2 -145.05)" >1000</text>
<line x1="445.00" y1="213.80" x2="445.00" y2="216.70" stroke="#1a1a1a" stroke-width="1.15" />
<text x="445.00" y="223.90" font-size="5.7" fill="#1a1a1a" stroke="#1a1a1a" stroke-width="0.14" font-weight="bold" text-anchor="middle" transform="translate(445.00 223.90) scale(1 1.07) translate(-445.0 -223.9)" >0</text>
<line x1="476.00" y1="213.80" x2="476.00" y2="216.70" stroke="#1a1a1a" stroke-width="1.15" />
<text x="476.00" y="223.90" font-size="5.7" fill="#1a1a1a" stroke="#1a1a1a" stroke-width="0.14" font-weight="bold" text-anchor="middle" transform="translate(476.00 223.90) scale(1 1.07) translate(-476.0 -223.9)" >1</text>
<line x1="507.00" y1="213.80" x2="507.00" y2="216.70" stroke="#1a1a1a" stroke-width="1.15" />
<text x="507.00" y="223.90" font-size="5.7" fill="#1a1a1a" stroke="#1a1a1a" stroke-width="0.14" font-weight="bold" text-anchor="middle" transform="translate(507.00 223.90) scale(1 1.07) translate(-507.0 -223.9)" >2</text>
<line x1="538.00" y1="213.80" x2="538.00" y2="216.70" stroke="#1a1a1a" stroke-width="1.15" />
<text x="538.00" y="223.90" font-size="5.7" fill="#1a1a1a" stroke="#1a1a1a" stroke-width="0.14" font-weight="bold" text-anchor="middle" transform="translate(538.00 223.90) scale(1 1.07) translate(-538.0 -223.9)" >3</text>
<text x="491.50" y="231.10" font-size="6" fill="#1a1a1a" stroke="#1a1a1a" stroke-width="0.14" font-weight="bold" text-anchor="middle" textLength="62.7" lengthAdjust="spacingAndGlyphs" transform="translate(491.50 231.10) scale(1 1.07) translate(-491.5 -231.1)" >Pacing frequency (Hz)</text>
<text x="289.2" y="61.0" font-size="6" fill="#1a1a1a" stroke="#1a1a1a" stroke-width="0.14" font-weight="bold" text-anchor="middle" transform="rotate(-90 289.2 61.0) translate(289.2 61.0) scale(1 1.07) translate(-289.2 -61.0)" >APD<tspan font-size="4" dy="1.3">90</tspan><tspan dy="-1.3"> (ms)</tspan></text>
<text x="419.2" y="60.7" font-size="6" fill="#1a1a1a" stroke="#1a1a1a" stroke-width="0.14" font-weight="bold" text-anchor="middle" transform="rotate(-90 419.2 60.7) translate(419.2 60.7) scale(1 1.07) translate(-419.2 -60.7)" >APD<tspan font-size="4" dy="1.3">90</tspan><tspan dy="-1.3"> normalized</tspan></text>
<text x="427.3" y="60.2" font-size="6" fill="#1a1a1a" stroke="#1a1a1a" stroke-width="0.14" font-weight="bold" text-anchor="middle" transform="rotate(-90 427.3 60.2) translate(427.3 60.2) scale(1 1.07) translate(-427.3 -60.2)" >to 0.25 Hz (%)</text>
<text x="289.3" y="177.2" font-size="6" fill="#1a1a1a" stroke="#1a1a1a" stroke-width="0.14" font-weight="bold" text-anchor="middle" textLength="56.5" lengthAdjust="spacingAndGlyphs" transform="rotate(-90 289.3 177.2) translate(289.3 177.2) scale(1 1.07) translate(-289.3 -177.2)" >CaT amplitude (µM)</text>
<text x="415.9" y="177.0" font-size="6" fill="#1a1a1a" stroke="#1a1a1a" stroke-width="0.14" font-weight="bold" text-anchor="middle" textLength="40.3" lengthAdjust="spacingAndGlyphs" transform="rotate(-90 415.9 177.0) translate(415.9 177.0) scale(1 1.07) translate(-415.9 -177.0)" >CaT amplitude</text>
<text x="422.9" y="175.9" font-size="6" fill="#1a1a1a" stroke="#1a1a1a" stroke-width="0.14" font-weight="bold" text-anchor="middle" textLength="69" lengthAdjust="spacingAndGlyphs" transform="rotate(-90 422.9 175.9) translate(422.9 175.9) scale(1 1.07) translate(-422.9 -175.9)" >normalized to 0.25 Hz (%)</text>
<line x1="325.9" y1="242" x2="333.09999999999997" y2="242" stroke="#1030ff" stroke-width="1.0" />
<circle cx="329.50" cy="242.00" r="1.3" fill="#1030ff"/>
<text x="337.5" y="243.9" font-size="5.6" fill="#1a1a1a" stroke="#1a1a1a" stroke-width="0.14" font-weight="bold" text-anchor="start" transform="translate(337.5 243.9) scale(1 1.07) translate(-337.5 -243.9)" >Mouse</text>
<line x1="358.2" y1="242" x2="365.4" y2="242" stroke="#ff1a1a" stroke-width="1.0" />
<rect x="360.50" y="240.70" width="2.60" height="2.60" fill="#ff1a1a"/>
<text x="369.1" y="243.9" font-size="5.6" fill="#1a1a1a" stroke="#1a1a1a" stroke-width="0.14" font-weight="bold" text-anchor="start" transform="translate(369.1 243.9) scale(1 1.07) translate(-369.1 -243.9)" >Rat</text>
<line x1="382.2" y1="242" x2="389.4" y2="242" stroke="#1fb51f" stroke-width="1.0" />
<path d="M385.80 240.44 L387.36 243.17 L384.24 243.17 Z" fill="#1fb51f"/>
<text x="393.1" y="243.9" font-size="5.6" fill="#1a1a1a" stroke="#1a1a1a" stroke-width="0.14" font-weight="bold" text-anchor="start" transform="translate(393.1 243.9) scale(1 1.07) translate(-393.1 -243.9)" >Guinea Pig</text>
<line x1="423.9" y1="242" x2="431.09999999999997" y2="242" stroke="#a020f0" stroke-width="1.0" />
<path d="M427.50 243.56 L429.06 240.83 L425.94 240.83 Z" fill="#a020f0"/>
<text x="434.8" y="243.9" font-size="5.6" fill="#1a1a1a" stroke="#1a1a1a" stroke-width="0.14" font-weight="bold" text-anchor="start" transform="translate(434.8 243.9) scale(1 1.07) translate(-434.8 -243.9)" >Rabbit</text>
<line x1="454.9" y1="242" x2="462.09999999999997" y2="242" stroke="#ff8c1a" stroke-width="1.0" />
<path d="M458.50 240.31 L460.19 242.00 L458.50 243.69 L456.81 242.00 Z" fill="#ff8c1a"/>
<text x="465.8" y="243.9" font-size="5.6" fill="#1a1a1a" stroke="#1a1a1a" stroke-width="0.14" font-weight="bold" text-anchor="start" transform="translate(465.8 243.9) scale(1 1.07) translate(-465.8 -243.9)" >Dog</text>
<line x1="480.0" y1="242" x2="487.2" y2="242" stroke="#111111" stroke-width="1.0" />
<path d="M483.60 240.44 L485.16 243.17 L482.04 243.17 Z" fill="#111111"/>
<text x="490.9" y="243.9" font-size="5.6" fill="#1a1a1a" stroke="#1a1a1a" stroke-width="0.14" font-weight="bold" text-anchor="start" transform="translate(490.9 243.9) scale(1 1.07) translate(-490.9 -243.9)" >Human</text>
<ellipse cx="13.799999999999999" cy="39.3" rx="5.8" ry="7.5" transform="rotate(-24 13.799999999999999 39.3)" fill="#e4e4e4" stroke="#7a7a7a" stroke-width="0.9"/>
<ellipse cx="14.1" cy="39.8" rx="4.0" ry="5.7" transform="rotate(-24 13.799999999999999 39.3)" fill="#f4abb9"/>
<ellipse cx="33.0" cy="39.3" rx="5.8" ry="7.5" transform="rotate(24 33.0 39.3)" fill="#e4e4e4" stroke="#7a7a7a" stroke-width="0.9"/>
<ellipse cx="32.7" cy="39.8" rx="4.0" ry="5.7" transform="rotate(24 33.0 39.3)" fill="#f4abb9"/>
<path d="M23.4 36 C30.2 36 34.4 41 34.599999999999994 48 C34.8 54 30.2 58.6 23.4 61.4 C16.599999999999998 58.6 11.999999999999998 54 12.2 48 C12.399999999999999 41 16.599999999999998 36 23.4 36 Z" fill="#f3f3f3" stroke="#7a7a7a" stroke-width="0.9"/>
<path d="M21.799999999999997 36.3 L22.4 34.6 L23.4 35.8 L24.299999999999997 34.4 L25.0 36.3" fill="#f3f3f3" stroke="#7a7a7a" stroke-width="0.5"/>
<ellipse cx="15.999999999999998" cy="55.2" rx="2.6" ry="1.6" fill="#cfcfcf"/>
<ellipse cx="30.799999999999997" cy="55.2" rx="2.6" ry="1.6" fill="#cfcfcf"/>
<ellipse cx="19.25" cy="49.9" rx="2.0" ry="2.7" fill="#111"/>
<circle cx="18.75" cy="49.0" r="0.65" fill="#fff"/>
<ellipse cx="27.549999999999997" cy="49.9" rx="2.0" ry="2.7" fill="#111"/>
<circle cx="27.049999999999997" cy="49.0" r="0.65" fill="#fff"/>
<ellipse cx="23.4" cy="55.5" rx="2.2" ry="1.45" fill="#f2909f"/>
<path d="M23.4 56.9 L23.4 58.2 M21.2 58.6 C22.2 59.5 24.599999999999998 59.5 25.599999999999998 58.6" stroke="#7a7a7a" stroke-width="0.45" fill="none"/>
<path d="M7.399999999999999 53.2 L15.399999999999999 54.4 M7.899999999999999 57.8 L15.399999999999999 56 M39.4 53.2 L31.4 54.4 M38.9 57.8 L31.4 56" stroke="#8a8a8a" stroke-width="0.6" fill="none"/>
<ellipse cx="56.800000000000004" cy="39.3" rx="5.8" ry="7.5" transform="rotate(-24 56.800000000000004 39.3)" fill="#5e5e5e" stroke="#3c3c3c" stroke-width="0.9"/>
<ellipse cx="57.1" cy="39.8" rx="4.0" ry="5.7" transform="rotate(-24 56.800000000000004 39.3)" fill="#ec7282"/>
<ellipse cx="76.0" cy="39.3" rx="5.8" ry="7.5" transform="rotate(24 76.0 39.3)" fill="#5e5e5e" stroke="#3c3c3c" stroke-width="0.9"/>
<ellipse cx="75.7" cy="39.8" rx="4.0" ry="5.7" transform="rotate(24 76.0 39.3)" fill="#ec7282"/>
<path d="M66.4 36 C73.2 36 77.4 41 77.60000000000001 48 C77.80000000000001 54 73.2 58.6 66.4 61.4 C59.60000000000001 58.6 55.00000000000001 54 55.2 48 C55.400000000000006 41 59.60000000000001 36 66.4 36 Z" fill="#6c6c6c" stroke="#3c3c3c" stroke-width="0.9"/>
<path d="M64.80000000000001 36.3 L65.4 34.6 L66.4 35.8 L67.30000000000001 34.4 L68.0 36.3" fill="#6c6c6c" stroke="#3c3c3c" stroke-width="0.5"/>
<ellipse cx="59.00000000000001" cy="55.2" rx="2.6" ry="1.6" fill="#585858"/>
<ellipse cx="73.80000000000001" cy="55.2" rx="2.6" ry="1.6" fill="#585858"/>
<ellipse cx="62.25000000000001" cy="49.9" rx="2.2" ry="2.8" fill="#111"/>
<circle cx="61.75000000000001" cy="49.0" r="0.65" fill="#fff"/>
<ellipse cx="70.55000000000001" cy="49.9" rx="2.2" ry="2.8" fill="#111"/>
<circle cx="70.05000000000001" cy="49.0" r="0.65" fill="#fff"/>
<ellipse cx="66.4" cy="55.5" rx="2.2" ry="1.45" fill="#f07080"/>
<rect x="65.0" y="58" width="2.8" height="2.1" fill="#fff" stroke="#444" stroke-width="0.35"/>
<line x1="66.4" y1="58" x2="66.4" y2="60.1" stroke="#444" stroke-width="0.3"/>
<path d="M50.400000000000006 53.2 L58.400000000000006 54.4 M50.900000000000006 57.8 L58.400000000000006 56 M82.4 53.2 L74.4 54.4 M81.9 57.8 L74.4 56" stroke="#555" stroke-width="0.6" fill="none"/>
<g>
  <polygon points="130.40,47.00 128.86,49.71 128.72,51.37 129.35,53.04 128.19,53.97 127.78,55.06 128.07,56.51 126.71,56.95 126.05,57.76 125.29,58.50 124.43,59.15 123.49,59.72 122.44,60.22 121.29,60.64 120.01,60.99 118.59,61.26 116.98,61.45 115.06,61.56 111.90,61.60 108.74,61.56 106.82,61.45 105.21,61.26 103.79,60.99 102.51,60.64 101.36,60.22 100.31,59.72 99.37,59.15 98.51,58.50 97.75,57.76 97.09,56.95 95.73,56.51 96.02,55.06 95.61,53.97 94.45,53.04 95.08,51.37 94.94,49.71 93.40,47.00 94.97,46.10 95.19,45.03 94.09,43.60 96.07,42.72 96.71,41.54 96.11,39.76 98.37,39.27 99.36,38.19 99.32,36.20 101.64,36.23 102.89,35.38 103.41,33.34 105.55,33.95 106.91,33.40 107.90,31.51 109.60,32.65 110.85,32.46 111.90,30.90 112.95,32.46 114.20,32.65 115.90,31.51 116.89,33.40 118.25,33.95 120.39,33.34 120.91,35.38 122.16,36.23 124.48,36.20 124.44,38.19 125.43,39.27 127.69,39.76 127.09,41.54 127.73,42.72 129.71,43.60 128.61,45.03 128.83,46.10" fill="#1c1c1c" stroke="#1c1c1c" stroke-width="0.5" stroke-linejoin="round"/>
  <polygon points="127.40,47.20 127.36,49.69 127.24,51.21 127.03,52.48 126.75,53.59 126.38,54.60 125.94,55.51 125.41,56.33 124.80,57.08 124.10,57.75 123.33,58.35 122.46,58.88 121.51,59.33 120.46,59.72 119.30,60.04 118.00,60.28 116.53,60.46 114.78,60.56 111.90,60.60 109.02,60.56 107.27,60.46 105.80,60.28 104.50,60.04 103.34,59.72 102.29,59.33 101.34,58.88 100.47,58.35 99.70,57.75 99.00,57.08 98.39,56.33 97.86,55.51 97.42,54.60 97.05,53.59 96.77,52.48 96.56,51.21 96.44,49.69 96.40,47.20 96.47,46.38 96.67,45.39 97.00,44.34 97.46,43.27 98.05,42.19 98.75,41.13 99.56,40.10 100.47,39.11 101.47,38.18 102.55,37.32 103.69,36.53 104.88,35.83 106.11,35.22 107.35,34.72 108.59,34.32 109.80,34.03 110.95,33.86 111.90,33.80 112.85,33.86 114.00,34.03 115.21,34.32 116.45,34.72 117.69,35.22 118.92,35.83 120.11,36.53 121.25,37.32 122.33,38.18 123.33,39.11 124.24,40.10 125.05,41.13 125.75,42.19 126.34,43.27 126.80,44.34 127.13,45.39 127.33,46.38" fill="#cc5a1c"/>
  <path d="M110.9 33.9 C110.8 38 110.1 42 108.6 46.6 L115.2 46.6 C113.7 42 113 38 112.9 33.9 Z" fill="#fff"/>
  <path d="M98.6 55.5 C99.6 50 104.6 46 111.9 46 C119.2 46 124.2 50 125.2 55.5 C124.8 59.6 119.2 60.6 111.9 60.6 C104.6 60.6 99 59.6 98.6 55.5 Z" fill="#fff"/>
  <circle cx="106.1" cy="43.6" r="3.2" fill="#fff"/>
  <circle cx="118.0" cy="43.6" r="3.2" fill="#fff"/>
  <circle cx="106.1" cy="43.6" r="2.65" fill="#111"/>
  <circle cx="118.0" cy="43.6" r="2.65" fill="#111"/>
  <circle cx="105.3" cy="42.7" r="0.9" fill="#fff"/>
  <circle cx="117.2" cy="42.7" r="0.9" fill="#fff"/>
  <path d="M109.4 50 L111.9 52.4 L114.4 50 M111.9 52.4 L111.9 55.4 M108.8 55.1 C109.8 57.2 114 57.2 115 55.1" stroke="#222" stroke-width="0.7" fill="none"/>
  <ellipse cx="112.1" cy="57.3" rx="1.1" ry="0.75" fill="#f09aab"/>
</g>

<g>
  <path d="M148.6 37.8 C143.5 31 139.8 20 140.6 12.2 C140.9 10 142.5 9.6 144.2 10.8 C151 16 156.3 27 157.2 36.4 Z" fill="#f0f0f0" stroke="#555" stroke-width="0.95"/>
  <path d="M150 35.2 C145.8 28.5 142.5 20.5 142.6 13.5 C148.3 18 153.2 27 154.8 34.2 Z" fill="#f4abb9"/>
  <path d="M161.2 36.6 C162.6 27 168.8 17.2 176 12.3 C177.6 11.3 179 12 178.7 13.8 C177.6 22.5 172.6 31.8 169.4 38 Z" fill="#f0f0f0" stroke="#555" stroke-width="0.95"/>
  <path d="M163.4 34.5 C165.4 26.5 170 18.6 176.2 14.4 C175.4 22 171.6 29.8 167.8 35.6 Z" fill="#f4abb9"/>
  <ellipse cx="159.3" cy="47.4" rx="12.7" ry="12.6" fill="#e4e4e4" stroke="#555" stroke-width="0.9"/>
  <path d="M148.5 50 C149 44.5 153.5 42 159.3 42 C165.1 42 169.6 44.5 170.1 50 C170.5 56 166 59.6 159.3 59.6 C152.6 59.6 148.1 56 148.5 50 Z" fill="#f7f7f7"/>
  <path d="M154.5 39.2 C156 36.6 162.6 36.6 164.1 39.2 C162.5 41.6 156.1 41.6 154.5 39.2 Z" fill="#cfcfcf"/>
  <circle cx="151.3" cy="42.3" r="1.5" fill="#222"/>
  <circle cx="167.3" cy="42.3" r="1.5" fill="#222"/>
  <path d="M157.3 48.4 L159.3 50.1 L161.3 48.4 M159.3 50.1 L159.3 52.3 M155.6 52.4 C157 55 161.6 55 163 52.4 M147.6 49.6 L155 50.8 M148 53.6 L155 52.4 M171 49.6 L163.6 50.8 M170.6 53.6 L163.6 52.4" stroke="#555" stroke-width="0.65" fill="none"/>
</g>

<g>
  <path d="M208.1 33.2 C215.5 33.2 220.5 38.5 220.6 46 C220.7 53 218.5 59 214.5 61.6 C212.5 62.6 203.7 62.6 201.7 61.6 C197.7 59 195.5 53 195.6 46 C195.7 38.5 200.7 33.2 208.1 33.2 Z" fill="#e8792c" stroke="#3a2a1c" stroke-width="0.85"/>
  <path d="M206.9 33.4 C206.3 37 206.1 41 206.1 45.5 L210.1 45.5 C210.1 41 209.9 37 209.3 33.4 Z" fill="#fff"/>
  <path d="M199 54.5 C199.2 48.6 203.3 45 208.1 45 C212.9 45 217 48.6 217.2 54.5 C217 59.8 214 62.2 208.1 62.4 C202.2 62.2 199.2 59.8 199 54.5 Z" fill="#fff"/>
  <path d="M198.2 38 C194 39.5 190.6 44 190.2 50.5 C189.9 56 191.6 60.4 194.6 61.6 C197.5 62 199.4 59 199.8 54 C200.2 49 199.8 42 198.2 38 Z" fill="#e8792c" stroke="#3a2a1c" stroke-width="0.85"/>
  <path d="M218 38 C222.2 39.5 225.6 44 226 50.5 C226.3 56 224.6 60.4 221.6 61.6 C218.7 62 216.8 59 216.4 54 C216 49 216.4 42 218 38 Z" fill="#e8792c" stroke="#3a2a1c" stroke-width="0.85"/>
  <circle cx="202.5" cy="41.8" r="2.0" fill="#fff"/>
  <circle cx="213.7" cy="41.8" r="2.0" fill="#fff"/>
  <circle cx="202.5" cy="41.8" r="1.55" fill="#1a1a1a"/>
  <circle cx="213.7" cy="41.8" r="1.55" fill="#1a1a1a"/>
  <circle cx="202.0" cy="41.2" r="0.5" fill="#fff"/>
  <circle cx="213.2" cy="41.2" r="0.5" fill="#fff"/>
  <path d="M204.9 51 C204.9 49.7 211.3 49.7 211.3 51 C211.3 53 209.2 54.8 208.1 54.8 C207 54.8 204.9 53 204.9 51 Z" fill="#111"/>
  <path d="M202.6 58.2 C205 59.4 211.2 59.4 213.6 58.2" stroke="#333" stroke-width="0.7" fill="none"/>
  <path d="M203.2 60.4 C205.6 61.6 210.6 61.6 213 60.4" stroke="#aaa" stroke-width="0.8" fill="none"/>
</g>

<g>
  <ellipse cx="241.6" cy="46.6" rx="2.0" ry="3.0" fill="#efb07a" stroke="#3a3a3a" stroke-width="0.6"/>
  <ellipse cx="267.2" cy="46.6" rx="2.0" ry="3.0" fill="#efb07a" stroke="#3a3a3a" stroke-width="0.6"/>
  <path d="M254.4 31 C261.4 31 266.2 36.5 266.2 44.5 C266.2 53 262 59.8 254.4 61 C246.8 59.8 242.6 53 242.6 44.5 C242.6 36.5 247.4 31 254.4 31 Z" fill="#f0b27c" stroke="#3a3a3a" stroke-width="0.7"/>
  <path d="M242.6 45.5 C240 38 240.5 29 248 25.3 C256 22.5 265.5 25 268.3 32.5 C269.3 36 268.4 40 266.6 43.5 C266 41 265 39.5 264 38.5 C261 36.5 256 34.5 250.2 33.6 C248 35.5 246 38.5 244.6 41.5 C243.8 43 243.2 44 242.6 45.5 Z" fill="#3c3c3c"/>
  <ellipse cx="248.6" cy="45.5" rx="3.2" ry="2.7" fill="#fff" stroke="#2a2a2a" stroke-width="0.55"/>
  <ellipse cx="259.8" cy="45.5" rx="3.2" ry="2.7" fill="#fff" stroke="#2a2a2a" stroke-width="0.55"/>
  <circle cx="248.9" cy="45.6" r="2.1" fill="#5d6670"/>
  <circle cx="259.5" cy="45.6" r="2.1" fill="#5d6670"/>
  <circle cx="248.9" cy="45.6" r="1.0" fill="#1a1a1a"/>
  <circle cx="259.5" cy="45.6" r="1.0" fill="#1a1a1a"/>
  <circle cx="248.2" cy="44.8" r="0.55" fill="#fff"/>
  <circle cx="258.8" cy="44.8" r="0.55" fill="#fff"/>
  <path d="M245.2 41.6 C247 41 249.5 41.2 251.4 42 M257 42 C259 41.2 261.4 41 263.2 41.6" stroke="#333" stroke-width="0.8" fill="none"/>
  <path d="M253.7 50 C254.1 50.6 254.9 50.6 255.3 50" stroke="#8a5a3a" stroke-width="0.5" fill="none"/>
  <path d="M249 53 C251 52.2 257.8 52.2 259.8 53 C259.2 57 257 58.8 254.4 58.8 C251.8 58.8 249.6 57 249 53 Z" fill="#c8c8c8" stroke="#333" stroke-width="0.6"/>
</g>
</svg>
</body></html>
